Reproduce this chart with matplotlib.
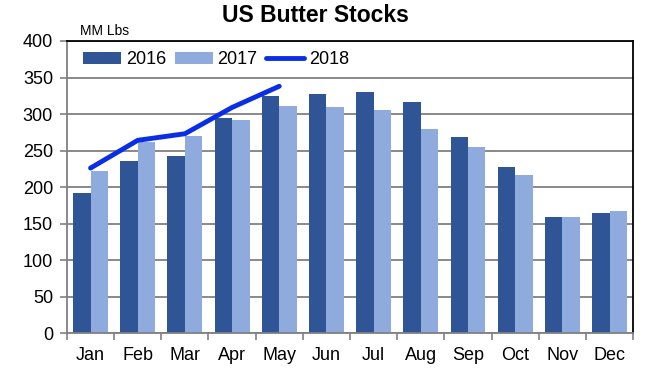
import numpy as np
import matplotlib.pyplot as plt

plt.rcParams['font.family'] = ['Liberation Sans', 'DejaVu Sans']

months = ['Jan', 'Feb', 'Mar', 'Apr', 'May', 'Jun', 'Jul', 'Aug', 'Sep', 'Oct', 'Nov', 'Dec']
stocks_2016 = [192, 235, 243, 295, 325, 327, 330, 317, 268, 227, 159, 164]
stocks_2017 = [222, 262, 270, 292, 311, 309, 306, 279, 255, 216, 159, 167]
stocks_2018 = [226, 264, 273, 309, 338]

x = np.arange(len(months))
w = 0.37

fig = plt.figure(figsize=(6.5, 3.76), dpi=100)
ax = fig.add_axes([0.103, 0.114, 0.871, 0.777])

b1 = ax.bar(x - w / 2, stocks_2016, w, color='#2F5597', label='2016', zorder=2)
b2 = ax.bar(x + w / 2, stocks_2017, w, color='#8FAADC', label='2017', zorder=2)
l3, = ax.plot(x[:len(stocks_2018)], stocks_2018, color='#0A2EE6', lw=3.5, label='2018',
              solid_capstyle='round', zorder=3)

ax.set_xlim(-0.5, 11.5)
ax.set_ylim(0, 400)
ax.set_yticks(range(0, 401, 50))
ax.set_xticks(x)
ax.set_xticklabels(months)
ax.set_xticks(np.arange(-0.5, 12, 1), minor=True)
ax.tick_params(axis='x', which='major', length=0, labelsize=13, pad=10)
ax.tick_params(axis='x', which='minor', length=5, width=1.2, color='#808080', direction='out')
ax.tick_params(axis='y', length=5, width=1.2, color='#808080', labelsize=13, pad=5)
ax.yaxis.grid(True, color='#808080', lw=1.3, zorder=0)

for s in ['left', 'bottom']:
    ax.spines[s].set_color('#808080')
    ax.spines[s].set_linewidth(1.3)
for s in ['top', 'right']:
    ax.spines[s].set_color('black')
    ax.spines[s].set_linewidth(1.3)

ax.legend(handles=[b1, b2, l3], loc='upper left', ncol=3, frameon=False, fontsize=13,
          handlelength=2.1, handleheight=0.6, columnspacing=0.5, handletextpad=0.25,
          bbox_to_anchor=(0.0, 1.02))

fig.text(0.485, 0.958, 'US Butter Stocks', ha='center', va='center', fontsize=16.5, fontweight='bold')
fig.text(0.123, 0.917, 'MM Lbs', ha='left', va='center', fontsize=10)

fig.savefig('out.png', dpi=100)
